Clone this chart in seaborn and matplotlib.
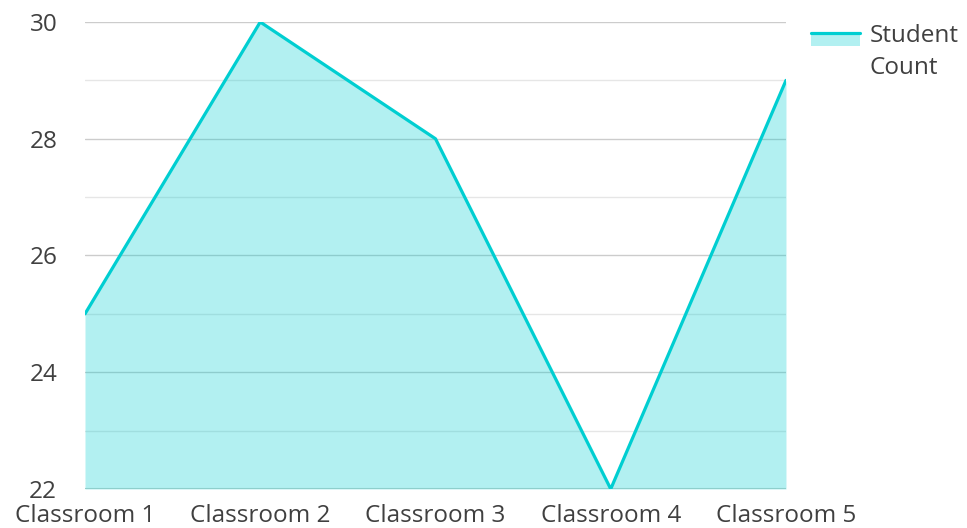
import matplotlib
matplotlib.use("Agg")
import matplotlib.pyplot as plt
import seaborn as sns
import pandas as pd
from matplotlib.legend_handler import HandlerBase
from matplotlib.patches import Rectangle
from matplotlib.lines import Line2D

classrooms = ["Classroom 1", "Classroom 2", "Classroom 3", "Classroom 4", "Classroom 5"]
student_count = [25, 30, 28, 22, 29]
y_ticks = [22, 24, 26, 28, 30]

line_color = "#00CED1"
text_color = "#404040"


class AreaHandler(HandlerBase):
    # legend key: light fill with the line on its top edge, next to the first text line
    def create_artists(self, legend, orig_handle, xdescent, ydescent,
                       width, height, fontsize, trans):
        mid = -ydescent + height / 2
        top = mid + 14
        bottom = mid + 4.6
        rect = Rectangle((-xdescent, bottom), width, top - bottom,
                         facecolor=line_color, alpha=0.3, edgecolor="none",
                         transform=trans)
        line = Line2D([-xdescent, -xdescent + width], [top, top],
                      color=line_color, linewidth=2.3, transform=trans)
        return [rect, line]


df = pd.DataFrame({"classroom": classrooms, "count": student_count})

sns.set_style("white")
plt.rcParams['font.family'] = ['Open Sans', 'DejaVu Sans']

fig = plt.figure(figsize=(9.67, 5.28), dpi=100)
ax = fig.add_axes([0.0879, 0.0739, 0.7249, 0.8844])

# grid lines: darker on labelled values, lighter in between
for v in range(22, 31):
    ax.axhline(v, color="#cccccc" if v % 2 == 0 else "#e6e6e6",
               linewidth=1, zorder=0)

x = list(range(len(classrooms)))
ax.fill_between(x, 22, student_count, color=line_color, alpha=0.3,
                linewidth=0, zorder=1)
sns.lineplot(data=df, x="classroom", y="count", color=line_color,
             linewidth=2.3, ax=ax, zorder=3, sort=False)
ax.axhline(22, color="#8ecfcc", linewidth=1.5, zorder=2)

ax.set_xlim(0, 4)
ax.set_ylim(22, 30)
ax.set_yticks(y_ticks)
ax.set_xticks(x)
ax.set_xticklabels(classrooms)
ax.set_xlabel("")
ax.set_ylabel("")
ax.tick_params(axis="both", length=0, labelsize=17.5, labelcolor=text_color)
ax.tick_params(axis="y", pad=20)
ax.tick_params(axis="x", pad=11)
for s in ax.spines.values():
    s.set_visible(False)

leg = ax.legend([object()], ["Student\nCount"], handler_map={object: AreaHandler()},
                loc="upper left", bbox_to_anchor=(1.036, 0.995), frameon=False,
                fontsize=17.5, handlelength=2.0, labelcolor=text_color,
                handletextpad=0.4, borderpad=0, borderaxespad=0)
leg.get_texts()[0].set_linespacing(1.4)

fig.savefig("out.png", dpi=100)
